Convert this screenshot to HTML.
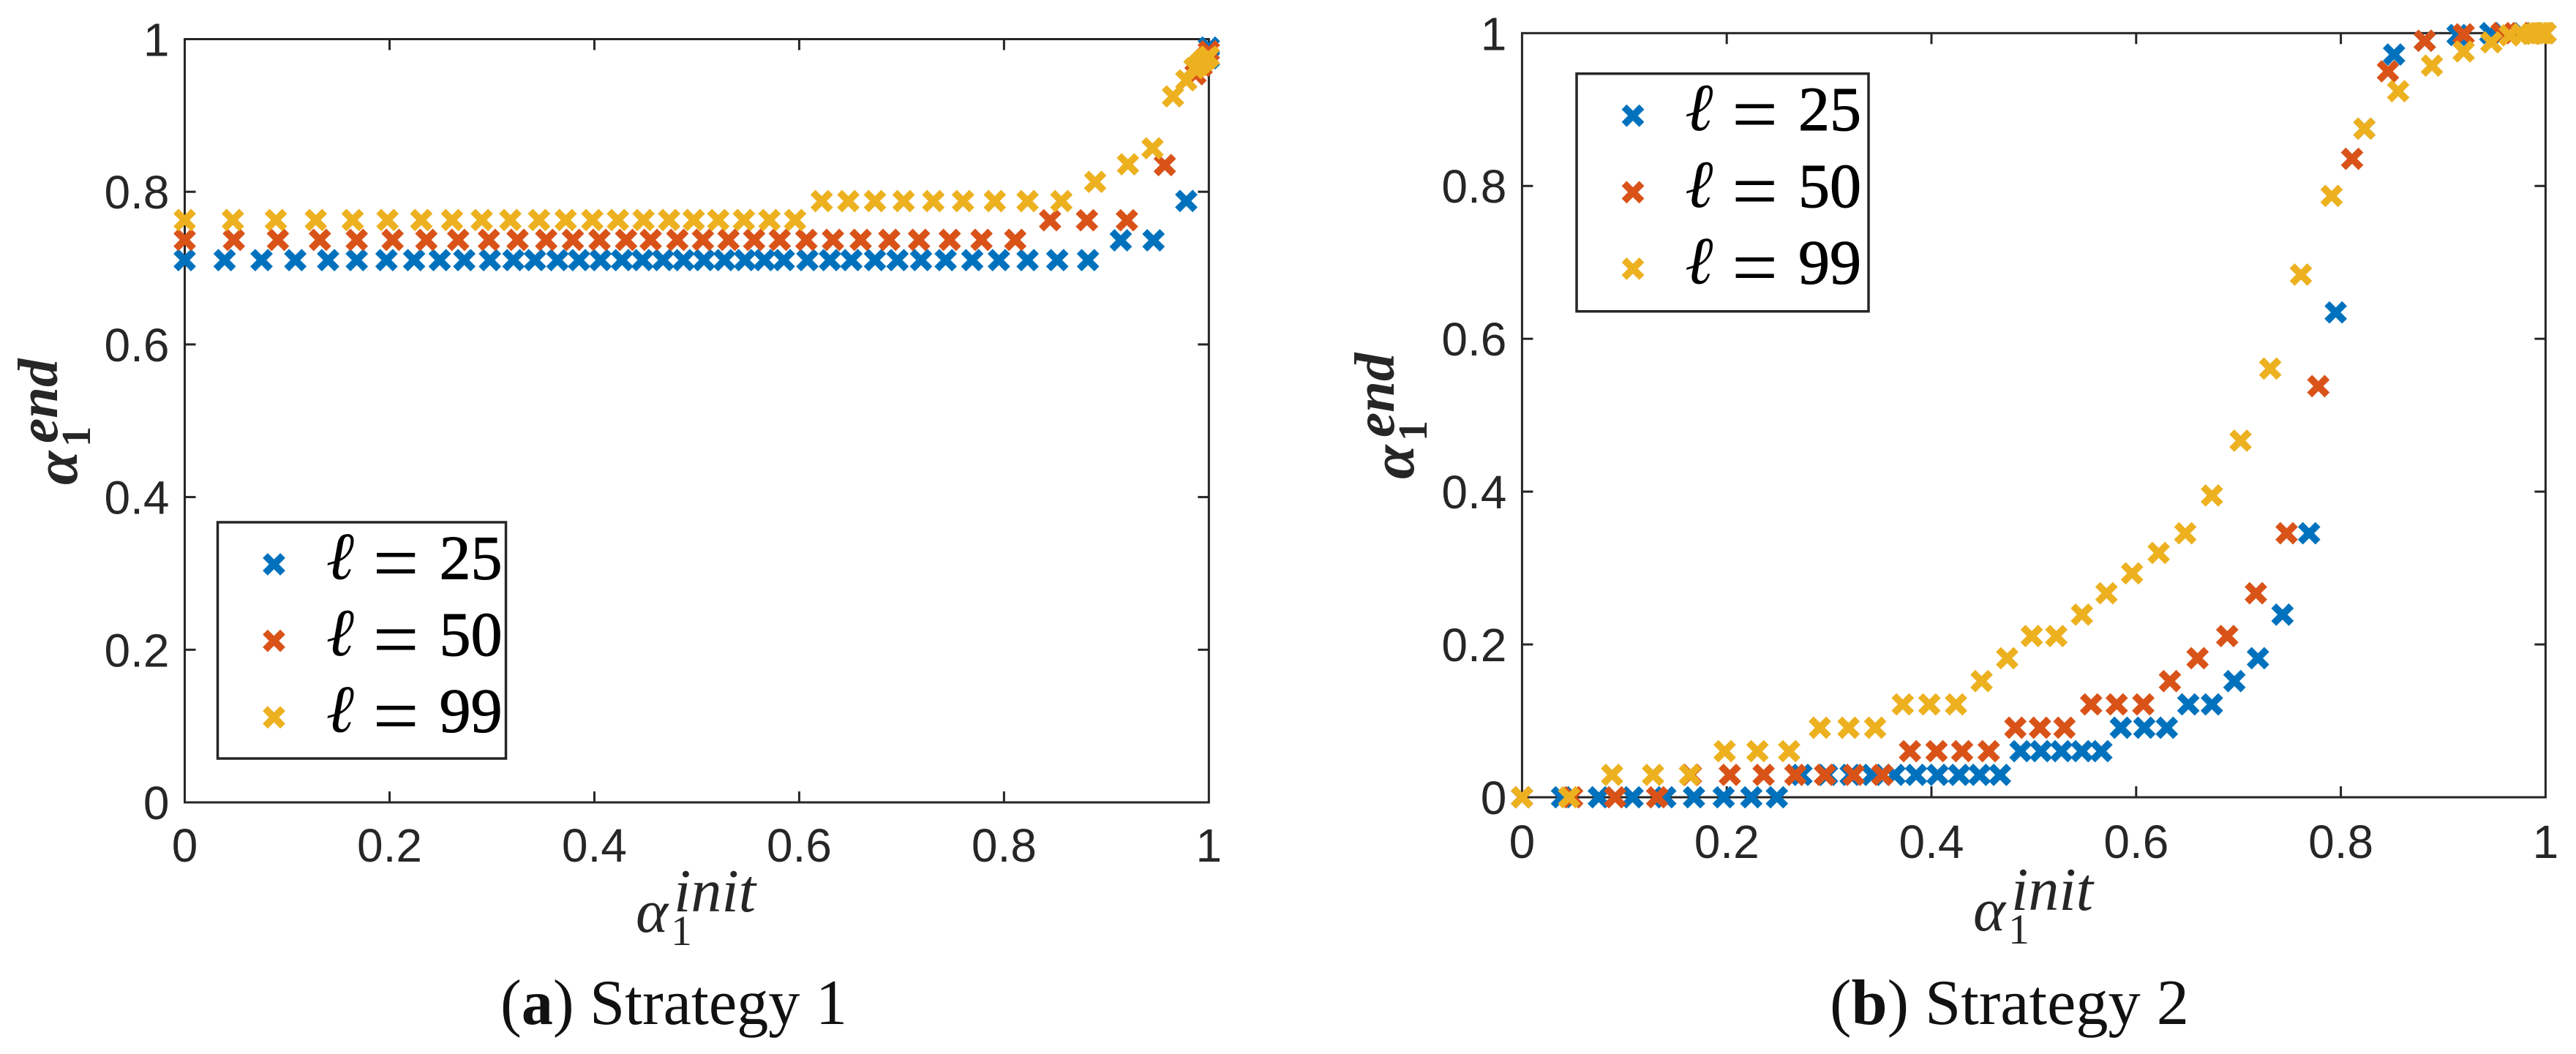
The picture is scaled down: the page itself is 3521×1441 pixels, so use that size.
<!DOCTYPE html>
<html lang="en">
<head>
<meta charset="utf-8">
<title>Strategy comparison</title>
<style>
html,body{margin:0;padding:0;background:#fff;}
svg{display:block;}
</style>
</head>
<body>
<svg id="figure" xmlns="http://www.w3.org/2000/svg" width="3521" height="1441" viewBox="0 0 3521 1441"></svg>
<script>
// Shared tick labels
const xTickValues = [0, 0.2, 0.4, 0.6, 0.8, 1];
const yTickValues = [0, 0.2, 0.4, 0.6, 0.8, 1];
const xTickLabels = ["0", "0.2", "0.4", "0.6", "0.8", "1"];
const yTickLabels = ["0", "0.2", "0.4", "0.6", "0.8", "1"];
const legendLabels = ["25", "50", "99"];

// Panel (a) Strategy 1
const s1BlueX = [0,.039,.075,.108,.140,.168,.197,.224,.249,.273,.298,.321,.342,.364,.385,.406,.427,.447,.467,.487,.507,.527,.547,.566,.585,.608,.630,.651,.674,.696,.719,.743,.769,.795,.823,.852,.882,.914,.946,.978,1,1];
const s1BlueY = [.7105,.7105,.7105,.7105,.7105,.7105,.7105,.7105,.7105,.7105,.7105,.7105,.7105,.7105,.7105,.7105,.7105,.7105,.7105,.7105,.7105,.7105,.7105,.7105,.7105,.7105,.7105,.7105,.7105,.7105,.7105,.7105,.7105,.7105,.7105,.7105,.7105,.7364,.7364,.788,.975,.989];
const s1RedX = [0,.048,.091,.132,.168,.203,.236,.267,.297,.325,.353,.379,.405,.431,.455,.481,.506,.531,.556,.581,.607,.633,.660,.688,.717,.747,.778,.811,.845,.881,.920,.957,.987,.993,.997,1];
const s1RedY = [.737,.737,.737,.737,.737,.737,.737,.737,.737,.737,.737,.737,.737,.737,.737,.737,.737,.737,.737,.737,.737,.737,.737,.737,.737,.737,.737,.737,.7627,.7627,.7627,.835,.954,.965,.975,.984];
const s1YellowX = [0,.047,.089,.128,.164,.198,.231,.261,.290,.318,.346,.372,.398,.423,.448,.473,.497,.521,.546,.571,.596,.622,.648,.674,.702,.731,.760,.791,.823,.856,.889,.921,.945,.965,.978,.986,.990,.993,.996,.998,1];
const s1YellowY = [.763,.763,.763,.763,.763,.763,.763,.763,.763,.763,.763,.763,.763,.763,.763,.763,.763,.763,.763,.763,.763,.7878,.7878,.7878,.7878,.7878,.7878,.7878,.7878,.7878,.813,.836,.857,.925,.946,.962,.966,.97,.973,.975,.977];

// Panel (b) Strategy 2
const s2BlueX = [0,.039,.075,.108,.140,.168,.197,.224,.249,.273,.298,.321,.342,.364,.385,.406,.427,.447,.467,.487,.507,.527,.547,.566,.585,.608,.630,.651,.674,.696,.719,.743,.769,.795,.823,.852,.882,.914,.946,.977,.990,1];
const s2BlueY = [0,0,0,0,0,0,0,0,0,.0293,.0293,.0293,.0293,.0293,.0293,.0293,.0293,.0293,.0293,.0603,.0603,.0603,.0603,.0603,.091,.091,.091,.1216,.1216,.152,.182,.239,.3455,.6345,.875,.972,.99,.9975,1,1,1,1];
const s2RedX = [0,.049,.091,.132,.165,.203,.236,.267,.296,.324,.352,.379,.405,.430,.456,.482,.506,.530,.556,.581,.607,.633,.660,.689,.717,.747,.778,.811,.846,.882,.920,.957,.975,.987,1];
const s2RedY = [0,0,0,0,.0293,.0293,.0293,.0293,.0293,.0293,.0293,.0603,.0603,.0603,.0603,.091,.091,.091,.1216,.1216,.1216,.152,.182,.211,.267,.3455,.538,.8355,.95,.99,.9985,1,1,1,1];
const s2YellowX = [0,.046,.088,.128,.164,.198,.230,.261,.291,.319,.345,.372,.398,.424,.449,.474,.498,.522,.547,.571,.596,.622,.648,.674,.702,.731,.761,.791,.823,.856,.889,.920,.947,.965,.977,.986,.990,.993,.995,.997,.999,1];
const s2YellowY = [0,0,.0293,.0293,.0293,.0603,.0603,.0603,.091,.091,.091,.1216,.1216,.1216,.152,.182,.211,.211,.239,.267,.293,.3197,.3455,.395,.4666,.561,.684,.787,.875,.924,.9575,.976,.988,.997,.999,.999,1,1,1,1,1,1];

const seriesColors = ["#0072BD", "#D95319", "#EDB120"];
const axisColor = "#262626";
const SVGNS = "http://www.w3.org/2000/svg";
const fig = document.getElementById("figure");

function mk(tag, attrs, parent, txt) {
  const el = document.createElementNS(SVGNS, tag);
  for (const k in attrs) el.setAttribute(k, attrs[k]);
  if (txt !== undefined) el.textContent = txt;
  parent.appendChild(el);
  return el;
}

function drawCross(parent, cx, cy, color) {
  const a = 12;
  return mk("path", {
    d: "M" + (cx - a) + " " + (cy - a) + "L" + (cx + a) + " " + (cy + a) + "M" + (cx - a) + " " + (cy + a) + "L" + (cx + a) + " " + (cy - a),
    stroke: color, "stroke-width": 9.6, fill: "none"
  }, parent);
}

function drawPanel(cfg) {
  const xScale = v => cfg.left + (cfg.right - cfg.left) * v;
  const yScale = v => cfg.bottom - (cfg.bottom - cfg.top) * v;

  const panel = mk("g", {}, fig);
  
  

  const frame = mk("rect", {x: cfg.left, y: cfg.top, width: cfg.right - cfg.left, height: cfg.bottom - cfg.top, fill: "#fff", stroke: axisColor, "stroke-width": 3}, panel);
  
  

  const xAxis = mk("g", {"font-family": '"Liberation Sans", sans-serif', "font-size": 64, fill: axisColor, "text-anchor": "middle"}, panel);
  
  
  xTickValues.forEach((v, i) => {
    const x = xScale(v);
    if (v > 0 && v < 1) {
      const t1 = mk("line", {x1: x, x2: x, y1: cfg.bottom, y2: cfg.bottom - 15, stroke: axisColor, "stroke-width": 3}, xAxis);
      
      
      const t2 = mk("line", {x1: x, x2: x, y1: cfg.top, y2: cfg.top + 15, stroke: axisColor, "stroke-width": 3}, xAxis);
      
      
    }
    const lab = mk("text", {x: x, y: cfg.xLabelBase}, xAxis, xTickLabels[i]);
    
    
  });

  const yAxis = mk("g", {"font-family": '"Liberation Sans", sans-serif', "font-size": 64, fill: axisColor, "text-anchor": "end"}, panel);
  
  
  yTickValues.forEach((v, i) => {
    const y = yScale(v);
    if (v > 0 && v < 1) {
      const t1 = mk("line", {x1: cfg.left, x2: cfg.left + 15, y1: y, y2: y, stroke: axisColor, "stroke-width": 3}, yAxis);
      
      
      const t2 = mk("line", {x1: cfg.right, x2: cfg.right - 15, y1: y, y2: y, stroke: axisColor, "stroke-width": 3}, yAxis);
      
      
    }
    const lab = mk("text", {x: cfg.left - 21, y: y + 23}, yAxis, yTickLabels[i]);
    
    
  });

  const marks = mk("g", {}, panel);
  
  
  cfg.series.forEach((s, si) => {
    s.x.forEach((xv, i) => {
      const m = drawCross(marks, xScale(xv), yScale(s.y[i]), seriesColors[si]);
      
      
    });
  });

  // legend
  const lg = mk("g", {}, panel);
  
  
  const box = mk("rect", {x: cfg.legX, y: cfg.legY, width: cfg.legW, height: cfg.legH, fill: "#fff", stroke: axisColor, "stroke-width": 3.5}, lg);
  
  
  legendLabels.forEach((lab, i) => {
    const entry = mk("g", {}, lg);
    
    
    const cy = cfg.legY + 57.5 + 104.6 * i;
    const m = drawCross(entry, cfg.legX + 77, cy, seriesColors[i]);
    
    
    const base = cy + 20;
    const ell = mk("text", {x: cfg.legX + 148, y: base, "font-family": '"Liberation Serif", "DejaVu Serif", serif', "font-style": "italic", "font-size": 92, fill: "#000"}, entry, "\u2113");
    
    
    const eq = mk("text", {x: cfg.legX + 212, y: base + 16, "font-family": '"Liberation Serif", serif', "font-size": 112, fill: "#000"}, entry, "=");
    
    
    const num = mk("text", {x: cfg.legX + 303, y: base, "font-family": '"Liberation Serif", serif', "font-size": 86, "stroke": "#000", "stroke-width": 1, fill: "#000"}, entry, lab);
    
    
  });

  // y title
  const yt = mk("g", {"font-family": '"Liberation Serif", serif', fill: axisColor}, panel);
  
  
  const ya = mk("text", {transform: "translate(" + (cfg.yTitleX - 2) + "," + (cfg.yTitleY + 4) + ") rotate(-90)", "font-style": "italic", "font-weight": "bold", "font-size": 84}, yt, "\u03B1");
  
  
  const ys = mk("text", {transform: "translate(" + (cfg.yTitleX + 16) + "," + (cfg.yTitleY - 48) + ") rotate(-90)", "font-weight": "bold", "font-size": 56}, yt, "1");
  
  
  const ye = mk("text", {transform: "translate(" + (cfg.yTitleX - 29) + "," + (cfg.yTitleY - 53) + ") rotate(-90)", "font-style": "italic", "font-weight": "bold", "font-size": 77}, yt, "end");
  
  

  // x title
  const xt = mk("g", {"font-family": '"Liberation Serif", serif', fill: axisColor}, panel);
  
  
  const xa = mk("text", {x: cfg.xTitleX, y: cfg.xTitleY, "font-style": "italic", "font-size": 84}, xt, "\u03B1");
  
  
  const xs = mk("text", {x: cfg.xTitleX + 48, y: cfg.xTitleY + 18, "font-size": 58}, xt, "1");
  
  
  const xi = mk("text", {x: cfg.xTitleX + 52, y: cfg.xTitleY - 28, "font-style": "italic", "font-size": 84}, xt, "init");
  
  

  // caption
  const cap = mk("text", {x: cfg.capX, y: 1400, "font-family": '"Liberation Serif", serif', "font-size": 88, fill: "#111", textLength: cfg.capW, lengthAdjust: "spacingAndGlyphs"}, panel);
  
  
  mk("tspan", {}, cap, "(");
  mk("tspan", {"font-weight": "bold"}, cap, cfg.capLetter);
  mk("tspan", {}, cap, ") " + cfg.capText);
}

drawPanel({
  name: "panel-strategy-1", left: 252.5, right: 1652.3, top: 53.5, bottom: 1097,
  xLabelBase: 1178, legX: 297.5, legY: 714, legW: 394, legH: 323,
  yTitleX: 107, yTitleY: 659, xTitleX: 869, xTitleY: 1274,
  capX: 684, capW: 474, capLetter: "a", capText: "Strategy 1",
  series: [{x: s1BlueX, y: s1BlueY}, {x: s1RedX, y: s1RedY}, {x: s1YellowX, y: s1YellowY}]
});
drawPanel({
  name: "panel-strategy-2", left: 2080.4, right: 3479.4, top: 45.3, bottom: 1090,
  xLabelBase: 1173, legX: 2155, legY: 100.7, legW: 399, legH: 325,
  yTitleX: 1934, yTitleY: 651, xTitleX: 2697, xTitleY: 1272,
  capX: 2501, capW: 491, capLetter: "b", capText: "Strategy 2",
  series: [{x: s2BlueX, y: s2BlueY}, {x: s2RedX, y: s2RedY}, {x: s2YellowX, y: s2YellowY}]
});
</script>
</body>
</html>
